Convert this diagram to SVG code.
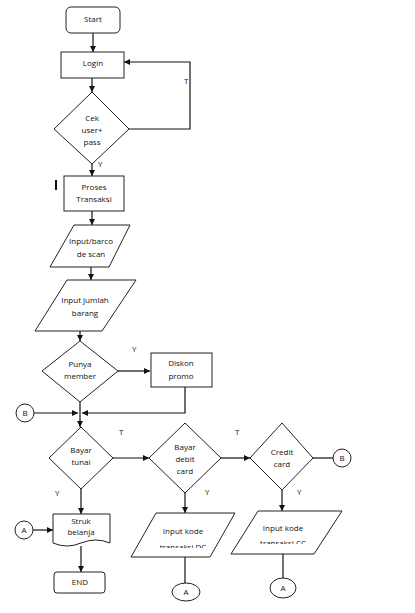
<svg xmlns="http://www.w3.org/2000/svg" width="415" height="613" viewBox="0 0 415 613">
<style>
.s{fill:#fff;stroke:#222;stroke-width:1}
.t{font-family:"Open Sans","Liberation Sans",sans-serif;font-size:8px;fill:#111;text-anchor:middle}
.l{font-family:"Open Sans","Liberation Sans",sans-serif;font-size:8px;fill:#111}
.c{fill:none;stroke:#111;stroke-width:1.2}
</style>
<defs>
<marker id="ah" viewBox="0 0 10 10" refX="10" refY="5" markerWidth="6" markerHeight="6" orient="auto" markerUnits="userSpaceOnUse">
<path d="M0,0 L10,5 L0,10 z" fill="#111"/>
</marker>
<clipPath id="cdc"><rect x="120" y="500" width="130" height="48"/></clipPath>
<clipPath id="ccc"><rect x="220" y="500" width="130" height="44"/></clipPath>
</defs>
<rect width="415" height="613" fill="#fff"/>
<g id="connectors">
<path class="c" d="M93,33 V52" marker-end="url(#ah)"/>
<path class="c" d="M92,78 V92" marker-end="url(#ah)"/>
<path class="c" d="M129,129 H190 V62 H124" marker-end="url(#ah)"/>
<path class="c" d="M92,164 V176" marker-end="url(#ah)"/>
<path class="c" d="M92,211 V225" marker-end="url(#ah)"/>
<path class="c" d="M91,266 V280" marker-end="url(#ah)"/>
<path class="c" d="M80,331 V341" marker-end="url(#ah)"/>
<path class="c" d="M118,371 H150" marker-end="url(#ah)"/>
<path class="c" d="M185,387 V413 H82" marker-end="url(#ah)"/>
<path class="c" d="M34,413 H78" marker-end="url(#ah)"/>
<path class="c" d="M80,402 V427" marker-end="url(#ah)"/>
<path class="c" d="M113,458 H149" marker-end="url(#ah)"/>
<path class="c" d="M221,458 H250" marker-end="url(#ah)"/>
<path class="c" d="M313,458 H333"/>
<path class="c" d="M81,489 V514" marker-end="url(#ah)"/>
<path class="c" d="M33,530 H53" marker-end="url(#ah)"/>
<path class="c" d="M81,546 V572" marker-end="url(#ah)"/>
<path class="c" d="M185,493 V513" marker-end="url(#ah)"/>
<path class="c" d="M185,557 V583"/>
<path class="c" d="M282,490 V511" marker-end="url(#ah)"/>
<path class="c" d="M283,554 V578"/>
<text class="l" x="184" y="84">T</text>
<text class="l" x="98" y="167">Y</text>
<text class="l" x="132" y="352">Y</text>
<text class="l" x="119" y="435">T</text>
<text class="l" x="235" y="435">T</text>
<text class="l" x="55" y="496">Y</text>
<text class="l" x="205" y="495">Y</text>
<text class="l" x="297" y="495">Y</text>
</g>
<g id="cursor"><rect x="55" y="180" width="2" height="10" fill="#111"/></g>
<g id="start"><rect class="s" x="66" y="7" width="54" height="26" rx="5"/><text class="t" x="93" y="22">Start</text></g>
<g id="login"><rect class="s" x="61" y="52" width="63" height="26"/><text class="t" x="93" y="66">Login</text></g>
<g id="cek"><polygon class="s" points="92,92 129,129 92,164 54,129"/><text class="t" x="92" y="121">Cek</text><text class="t" x="92" y="133">user+</text><text class="t" x="92" y="145">pass</text></g>
<g id="proses"><rect class="s" x="64" y="176" width="60" height="35"/><text class="t" x="94" y="190">Proses</text><text class="t" x="94" y="202">Transaksi</text></g>
<g id="barcode"><polygon class="s" points="74,225 130,225 109,267 50,267"/><text class="t" x="91" y="244">Input/barco</text><text class="t" x="91" y="257">de scan</text></g>
<g id="jumlah"><polygon class="s" points="67,280 136,280 102,331 35,331"/><text class="t" x="85" y="303">Input  jumlah</text><text class="t" x="85" y="316">barang</text></g>
<g id="member"><polygon class="s" points="80,341 118,371 80,402 42,371"/><text class="t" x="80" y="367">Punya</text><text class="t" x="80" y="379">member</text></g>
<g id="diskon"><rect class="s" x="151" y="353" width="61" height="34"/><text class="t" x="181" y="366">Diskon</text><text class="t" x="181" y="379">promo</text></g>
<g id="b1"><circle class="s" cx="25" cy="413" r="9"/><text class="t" x="25" y="416">B</text></g>
<g id="tunai"><polygon class="s" points="81,427 113,458 81,489 49,458"/><text class="t" x="81" y="453">Bayar</text><text class="t" x="81" y="465">tunai</text></g>
<g id="debit"><polygon class="s" points="185,423 221,458 185,493 149,458"/><text class="t" x="185" y="450">Bayar</text><text class="t" x="185" y="462">debit</text><text class="t" x="185" y="474">card</text></g>
<g id="credit"><polygon class="s" points="282,423 313,458 282,490 250,458"/><text class="t" x="282" y="455">Credit</text><text class="t" x="282" y="467">card</text></g>
<g id="b2"><circle class="s" cx="342" cy="458" r="9"/><text class="t" x="342" y="461">B</text></g>
<g id="a1"><circle class="s" cx="24" cy="530" r="9"/><text class="t" x="24" y="533">A</text></g>
<g id="struk"><path class="s" d="M53,514 H110 V543 Q96,537 81,543 Q67,549 53,543 Z"/><text class="t" x="81" y="524">Struk</text><text class="t" x="81" y="535">belanja</text></g>
<g id="end"><rect class="s" x="54" y="572" width="51" height="21" rx="3"/><text class="t" x="80" y="585">END</text></g>
<g id="dc"><polygon class="s" points="156,513 235,513 210,557 131,557"/><text class="t" x="183" y="534">Input kode</text><text class="t" x="183" y="550" clip-path="url(#cdc)">transaksi DC</text></g>
<g id="a2"><ellipse class="s" cx="186" cy="592" rx="14" ry="9"/><text class="t" x="186" y="595">A</text></g>
<g id="cc"><polygon class="s" points="258,511 342,511 314,554 231,554"/><text class="t" x="283" y="531">Input kode</text><text class="t" x="283" y="546" clip-path="url(#ccc)">transaksi  CC</text></g>
<g id="a3"><ellipse class="s" cx="283" cy="588" rx="13" ry="10"/><text class="t" x="283" y="591">A</text></g>
</svg>
